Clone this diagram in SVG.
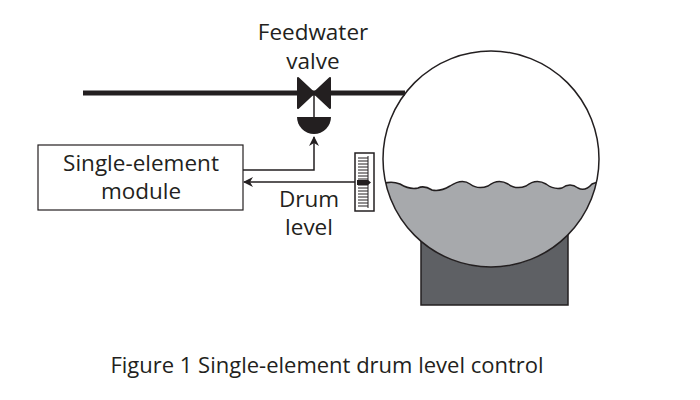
<svg xmlns="http://www.w3.org/2000/svg" width="700" height="400" viewBox="0 0 700 400">
<style>
text{font-family:"Open Sans","Liberation Sans",sans-serif;fill:#231f20;text-anchor:middle}
.t{font-size:22.5px}
.ln{stroke:#231f20;stroke-width:1.5;fill:none}
</style>
<defs>
<marker id="ah" viewBox="0 0 10 10" refX="9" refY="5" markerWidth="10" markerHeight="10" markerUnits="userSpaceOnUse" orient="auto">
<path d="M0,0 L10,5 L0,10 L3,5 Z" fill="#231f20"/>
</marker>
<clipPath id="dc"><circle cx="491" cy="159" r="108"/></clipPath>
</defs>
<rect width="700" height="400" fill="#fff"/>
<g id="support"><rect x="421" y="230" width="147" height="75" fill="#5e6064" stroke="#231f20" stroke-width="1.5"/></g>
<g id="drum">
<circle cx="491" cy="159" r="108" fill="#fff"/>
<path clip-path="url(#dc)" fill="#a7a9ac" stroke="#231f20" stroke-width="1.5" d="M380,185 Q390,180 400,184 Q410,190 418,188 Q424,185 432,190 Q440,192 450,186 Q462,178 470,184 Q478,190 488,186 Q498,178 508,184 Q516,190 526,186 Q536,178 546,184 Q554,190 562,188 Q570,182 578,188 Q585,192 592,184 Q598,181 605,182 L605,280 L380,280 Z"/>
<circle cx="491" cy="159" r="108" fill="none" stroke="#231f20" stroke-width="1.5"/>
</g>
<g id="pipe"><line x1="83" y1="93" x2="405" y2="93" stroke="#231f20" stroke-width="5"/></g>
<g id="valve">
<path d="M298,78 L314,93 L330,78 L330,108 L314,93 L298,108 Z" fill="#231f20" stroke="#231f20" stroke-width="2" stroke-linejoin="round"/>
<line x1="314" y1="93" x2="314" y2="117" class="ln"/>
<path d="M297,117 L331,117 A17,17 0 0 1 297,117 Z" fill="#231f20"/>
<text class="t" x="313" y="40">Feedwater</text>
<text class="t" x="313" y="69">valve</text>
</g>
<g id="module">
<rect x="38" y="145" width="205" height="65" fill="#fff" stroke="#231f20" stroke-width="1.2"/>
<text class="t" x="141" y="171">Single-element</text>
<text class="t" x="141" y="199">module</text>
</g>
<g id="gauge">
<rect x="355" y="153" width="19" height="58" fill="#fff" stroke="#231f20" stroke-width="1.5"/>
<line x1="368" y1="156" x2="368" y2="208" stroke="#231f20" stroke-width="1"/>
<path stroke="#231f20" stroke-width="1" d="M358,158H368M358,161H368M358,164H368M358,167H368M358,170H368M358,173H368M358,176H368M358,179H368M358,185H368M358,188H368M358,191H368M358,194H368M358,197H368M358,200H368M358,203H368M358,206H368"/>
<path d="M357,180 L368,180 L371,182.5 L368,185 L357,185 Z" fill="#231f20"/>
<text class="t" x="309" y="207">Drum</text>
<text class="t" x="309" y="235">level</text>
</g>
<g id="connectors">
<path class="ln" d="M243,170 L314,170 L314,137" marker-end="url(#ah)"/>
<path class="ln" d="M355,182 L244,182" marker-end="url(#ah)"/>
</g>
<text x="327" y="373" style="font-size:22px">Figure 1 Single-element drum level control</text>
</svg>
